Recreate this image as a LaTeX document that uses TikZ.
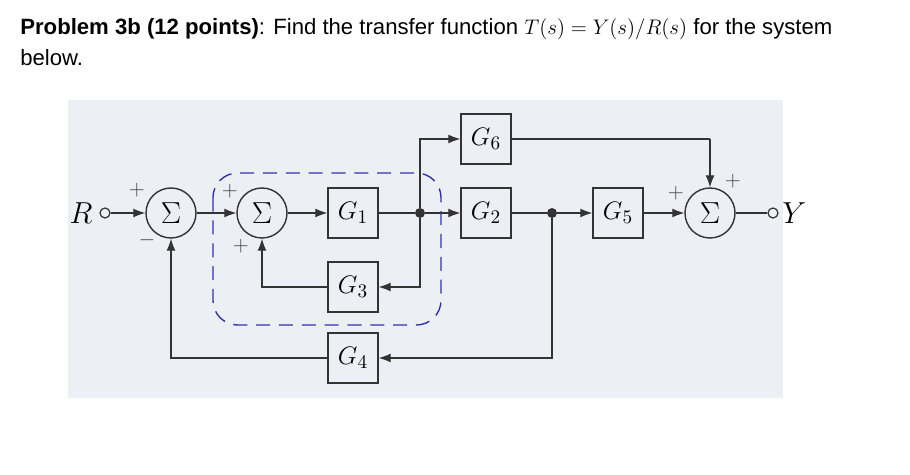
\documentclass[tikz,border=0pt]{standalone}
\usepackage{fontspec}
\setmainfont{Liberation Sans}
\newfontfamily\lmr{Latin Modern Roman}
\usetikzlibrary{arrows.meta}
\definecolor{bgc}{RGB}{236,239,244}
\begin{document}
\begin{tikzpicture}[x=0.02cm,y=-0.02cm,
  blk/.style={draw=black!80,line width=0.8pt,minimum width=1cm,minimum height=1cm,inner sep=0pt,font=\lmr\fontsize{15}{15}\selectfont},
  sumc/.style={draw=black!80,line width=0.8pt,circle,minimum size=1cm,inner sep=0pt,font=\lmr\fontsize{17}{17}\selectfont},
  term/.style={draw=black!80,circle,minimum size=0.2cm,inner sep=0pt,line width=0.7pt},
  sig/.style={line width=0.7pt,draw=black!80,-{Latex[length=2.4mm,width=1.8mm]}},
  ln/.style={line width=0.7pt,draw=black!80},
  dot/.style={circle,fill=black!80,minimum size=0.2cm,inner sep=0pt},
  pm/.style={font=\lmr\fontsize{13}{13}\selectfont,text=black!75}]
\useasboundingbox (0,0) rectangle (910,475);
\fill[white] (0,0) rectangle (910,475);
\fill[bgc] (68,100) rectangle (783,398);
\node[anchor=base west,inner sep=0pt,font=\fontsize{12.6}{15}\selectfont] at (20,35) {\textbf{Problem 3b (12 points)}: Find the transfer function $T(s)=Y(s)/R(s)$ for the system};
\node[anchor=base west,inner sep=0pt,font=\fontsize{12.6}{15}\selectfont] at (20,66) {below.};
% nodes
\node[term] (r) at (105,213) {};
\node[font=\lmr\itshape\fontsize{16}{16}\selectfont,anchor=east,inner sep=1pt] (rl) at (r.west) {$R$\,};
\node[sumc] (s1) at (171,213) {$\Sigma$};
\node[sumc] (s2) at (262,213) {$\Sigma$};
\node[blk] (g1) at (353,213) {$G_1$};
\node[dot] (j1) at (420,213) {};
\node[blk] (g2) at (486,213) {$G_2$};
\node[blk] (g6) at (486,139) {$G_6$};
\node[blk] (g3) at (353,287) {$G_3$};
\node[blk] (g4) at (353,358) {$G_4$};
\node[dot] (j2) at (552,213) {};
\node[blk] (g5) at (618,213) {$G_5$};
\node[sumc] (s3) at (710,213) {$\Sigma$};
\node[term] (y) at (773,213) {};
\node[font=\lmr\itshape\fontsize{16}{16}\selectfont,anchor=west,inner sep=2pt] (yl) at (y.east) {$Y$};
\coordinate (c6) at (710,139);
% connectors
\draw[sig] (r) -- (s1);
\draw[sig] (s1) -- (s2);
\draw[sig] (s2) -- (g1);
\draw[ln] (g1) -- (j1);
\draw[sig] (j1) -- (g2);
\draw[sig] (j1) |- (g6);
\draw[sig] (j1) |- (g3);
\draw[sig] (g3) -| (s2);
\draw[ln] (g2) -- (j2);
\draw[sig] (j2) -- (g5);
\draw[sig] (j2) |- (g4);
\draw[sig] (g4) -| (s1);
\draw[sig] (g5) -- (s3);
\draw[ln] (g6) -- (c6);
\draw[sig] (c6) -- (s3);
\draw[ln] (s3) -- (y);
% signs
\node[pm] at (137,190) {$+$};
\node[pm] at (147,240) {$-$};
\node[pm] at (230,191) {$+$};
\node[pm] at (241,246) {$+$};
\node[pm] at (676,193) {$+$};
\node[pm] at (733,181) {$+$};
% dashed box
\draw[blue!60!black!80,line width=0.8pt,rounded corners=14pt,dash pattern=on 8pt off 5pt] (213,173) rectangle (441,325);
\end{tikzpicture}
\end{document}
